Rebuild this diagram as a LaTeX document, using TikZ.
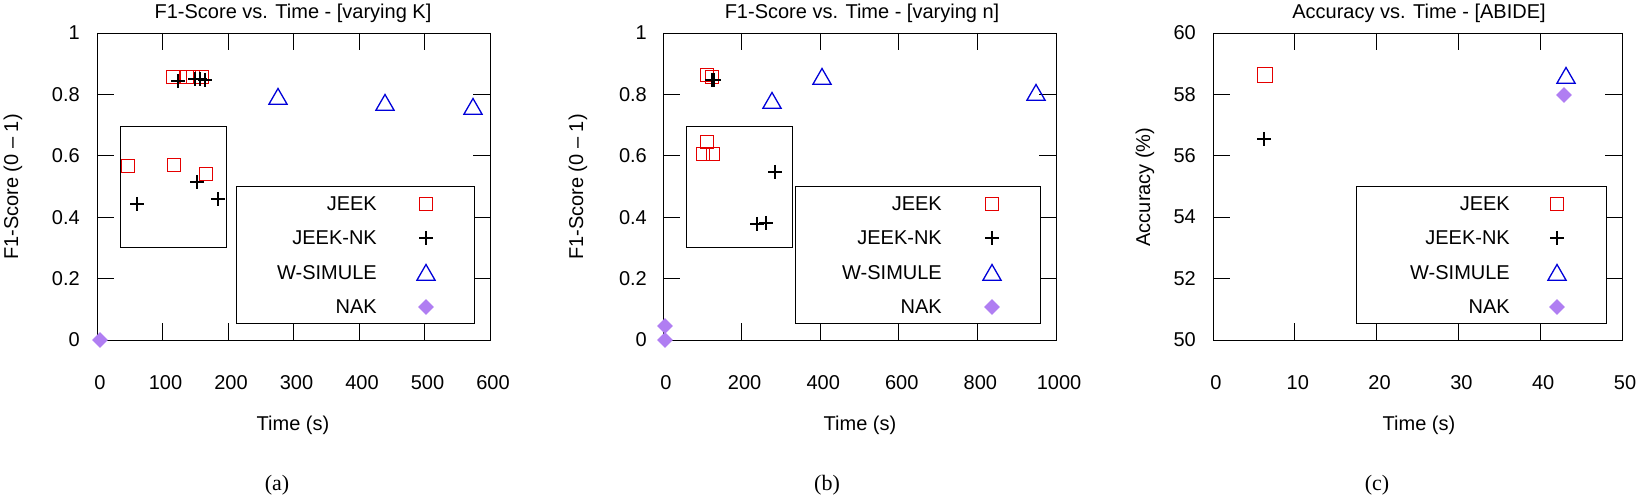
\documentclass[tikz,border=0pt]{standalone}
\usepackage{fontspec}
\setmainfont{Liberation Sans}
\newfontfamily\capfont{Liberation Serif}
\usetikzlibrary{shapes.geometric}
\definecolor{nakc}{HTML}{B07EF2}
\tikzset{
  sqm/.style={draw=red!90!black,line width=1.3pt,rectangle,minimum size=13pt,inner sep=0pt},
  trim/.style={draw=blue!85!black,line width=1.3pt,regular polygon,regular polygon sides=3,minimum size=21pt,inner sep=0pt},
  dim/.style={fill=nakc,diamond,minimum size=16pt,inner sep=0pt},
  lbl/.style={font=\fontsize{20}{22}\selectfont,inner sep=0pt},
  frm/.style={line width=0.9pt},
  tk/.style={line width=0.8pt},
}
\newcommand{\pl}[2]{\draw[line width=1.2pt] (#1-7,#2)--(#1+7,#2) (#1,#2-7)--(#1,#2+7);}
\newcommand{\mylegend}[4]{% #1 left #2 right #3 text right #4 symbol x
  \draw[frm,fill=white] (#1,186) rectangle (#2,323);
  \node[lbl,anchor=east] at (#3,204) {JEEK};
  \node[lbl,anchor=east] at (#3,238) {JEEK-NK};
  \node[lbl,anchor=east] at (#3,273) {W-SIMULE};
  \node[lbl,anchor=east] at (#3,307) {NAK};
  \node[sqm] at (#4,204) {};
  \pl{#4}{238}
  \node[trim] at (#4,275) {};
  \node[dim] at (#4,307) {};
}
\begin{document}
\begin{tikzpicture}[x=1pt,y=-1pt]
\useasboundingbox (0,0) rectangle (1643,502);
% ===== Panel (a)
\draw[frm] (97,33) rectangle (490,340);
\foreach \v/\t in {0/0,1/0.2,2/0.4,3/0.6,4/0.8,5/1}{
  \pgfmathsetmacro\yy{340-\v*61.4}
  \draw[tk] (97,\yy)--(114,\yy) (490,\yy)--(473,\yy);
  \node[lbl,anchor=east] at (80,\yy) {\t};}
\foreach \v in {0,...,6}{
  \pgfmathsetmacro\xx{97+\v*65.5}
  \draw[tk] (\xx,340)--(\xx,323) (\xx,33)--(\xx,50);
  \pgfmathtruncatemacro\lab{\v*100}
  \node[lbl] at (\xx+3,383) {\lab};}
\node[lbl] at (293,13) {F1-Score vs. Time - [varying K]};
\node[lbl,rotate=90] at (13,187) {F1-Score (0 -- 1)};
\node[lbl] at (293,425) {Time (s)};
\node[lbl,font=\capfont\fontsize{22}{24}\selectfont] at (277,485) {(a)};
\draw[frm] (120,126) rectangle (226,247);
\mylegend{236}{474}{377}{426}
\foreach \x in {173,187,193,202} \node[sqm] at (\x,77) {};
\pl{178}{81}\pl{195}{79}\pl{200}{79}\pl{205}{80}
\node[trim] at (278,99) {};
\node[trim] at (385,105) {};
\node[trim] at (473,109) {};
\node[dim] at (100,340) {};
\node[sqm] at (128,166) {};\node[sqm] at (174,165) {};\node[sqm] at (206,174) {};
\pl{137}{204}\pl{197}{182}\pl{218}{199}
% ===== Panel (b)
\draw[frm] (663,33) rectangle (1056,340);
\foreach \v/\t in {0/0,1/0.2,2/0.4,3/0.6,4/0.8,5/1}{
  \pgfmathsetmacro\yy{340-\v*61.4}
  \draw[tk] (663,\yy)--(680,\yy) (1056,\yy)--(1039,\yy);
  \node[lbl,anchor=east] at (647,\yy) {\t};}
\foreach \v in {0,...,5}{
  \pgfmathsetmacro\xx{663+\v*78.6}
  \draw[tk] (\xx,340)--(\xx,323) (\xx,33)--(\xx,50);
  \pgfmathtruncatemacro\lab{\v*200}
  \node[lbl] at (\xx+3,383) {\lab};}
\node[lbl] at (862,13) {F1-Score vs. Time - [varying n]};
\node[lbl,rotate=90] at (578,187) {F1-Score (0 -- 1)};
\node[lbl] at (860,425) {Time (s)};
\node[lbl,font=\capfont\fontsize{22}{24}\selectfont] at (827,485) {(b)};
\draw[frm] (686,126) rectangle (792,247);
\mylegend{795}{1040}{942}{992}
\node[sqm] at (707,75) {};\node[sqm] at (712,77) {};
\pl{712}{80}\pl{714}{80}
\node[trim] at (772,103) {};
\node[trim] at (822,79) {};
\node[trim] at (1036,95) {};
\node[dim] at (665,326) {};\node[dim] at (665,340) {};
\node[sqm] at (707,142) {};\node[sqm] at (703,154) {};\node[sqm] at (713,154) {};
\pl{775}{172}\pl{757}{224}\pl{766}{223}
% ===== Panel (c)
\draw[frm] (1213,33) rectangle (1622,340);
\foreach \v/\t in {0/50,1/52,2/54,3/56,4/58,5/60}{
  \pgfmathsetmacro\yy{340-\v*61.4}
  \draw[tk] (1213,\yy)--(1230,\yy) (1622,\yy)--(1605,\yy);
  \node[lbl,anchor=east] at (1196,\yy) {\t};}
\foreach \v in {0,...,5}{
  \pgfmathsetmacro\xx{1213+\v*81.8}
  \draw[tk] (\xx,340)--(\xx,323) (\xx,33)--(\xx,50);
  \pgfmathtruncatemacro\lab{\v*10}
  \node[lbl] at (\xx+3,383) {\lab};}
\node[lbl] at (1419,13) {Accuracy vs. Time - [ABIDE]};
\node[lbl,rotate=90] at (1145,187) {Accuracy (\%)};
\node[lbl] at (1419,425) {Time (s)};
\node[lbl,font=\capfont\fontsize{22}{24}\selectfont] at (1377,485) {(c)};
\mylegend{1356}{1606}{1510}{1557}
\node[sqm,minimum size=15pt] at (1265,75) {};
\pl{1264}{139}
\node[trim] at (1566,78) {};
\node[dim] at (1564,95) {};
\end{tikzpicture}
\end{document}
